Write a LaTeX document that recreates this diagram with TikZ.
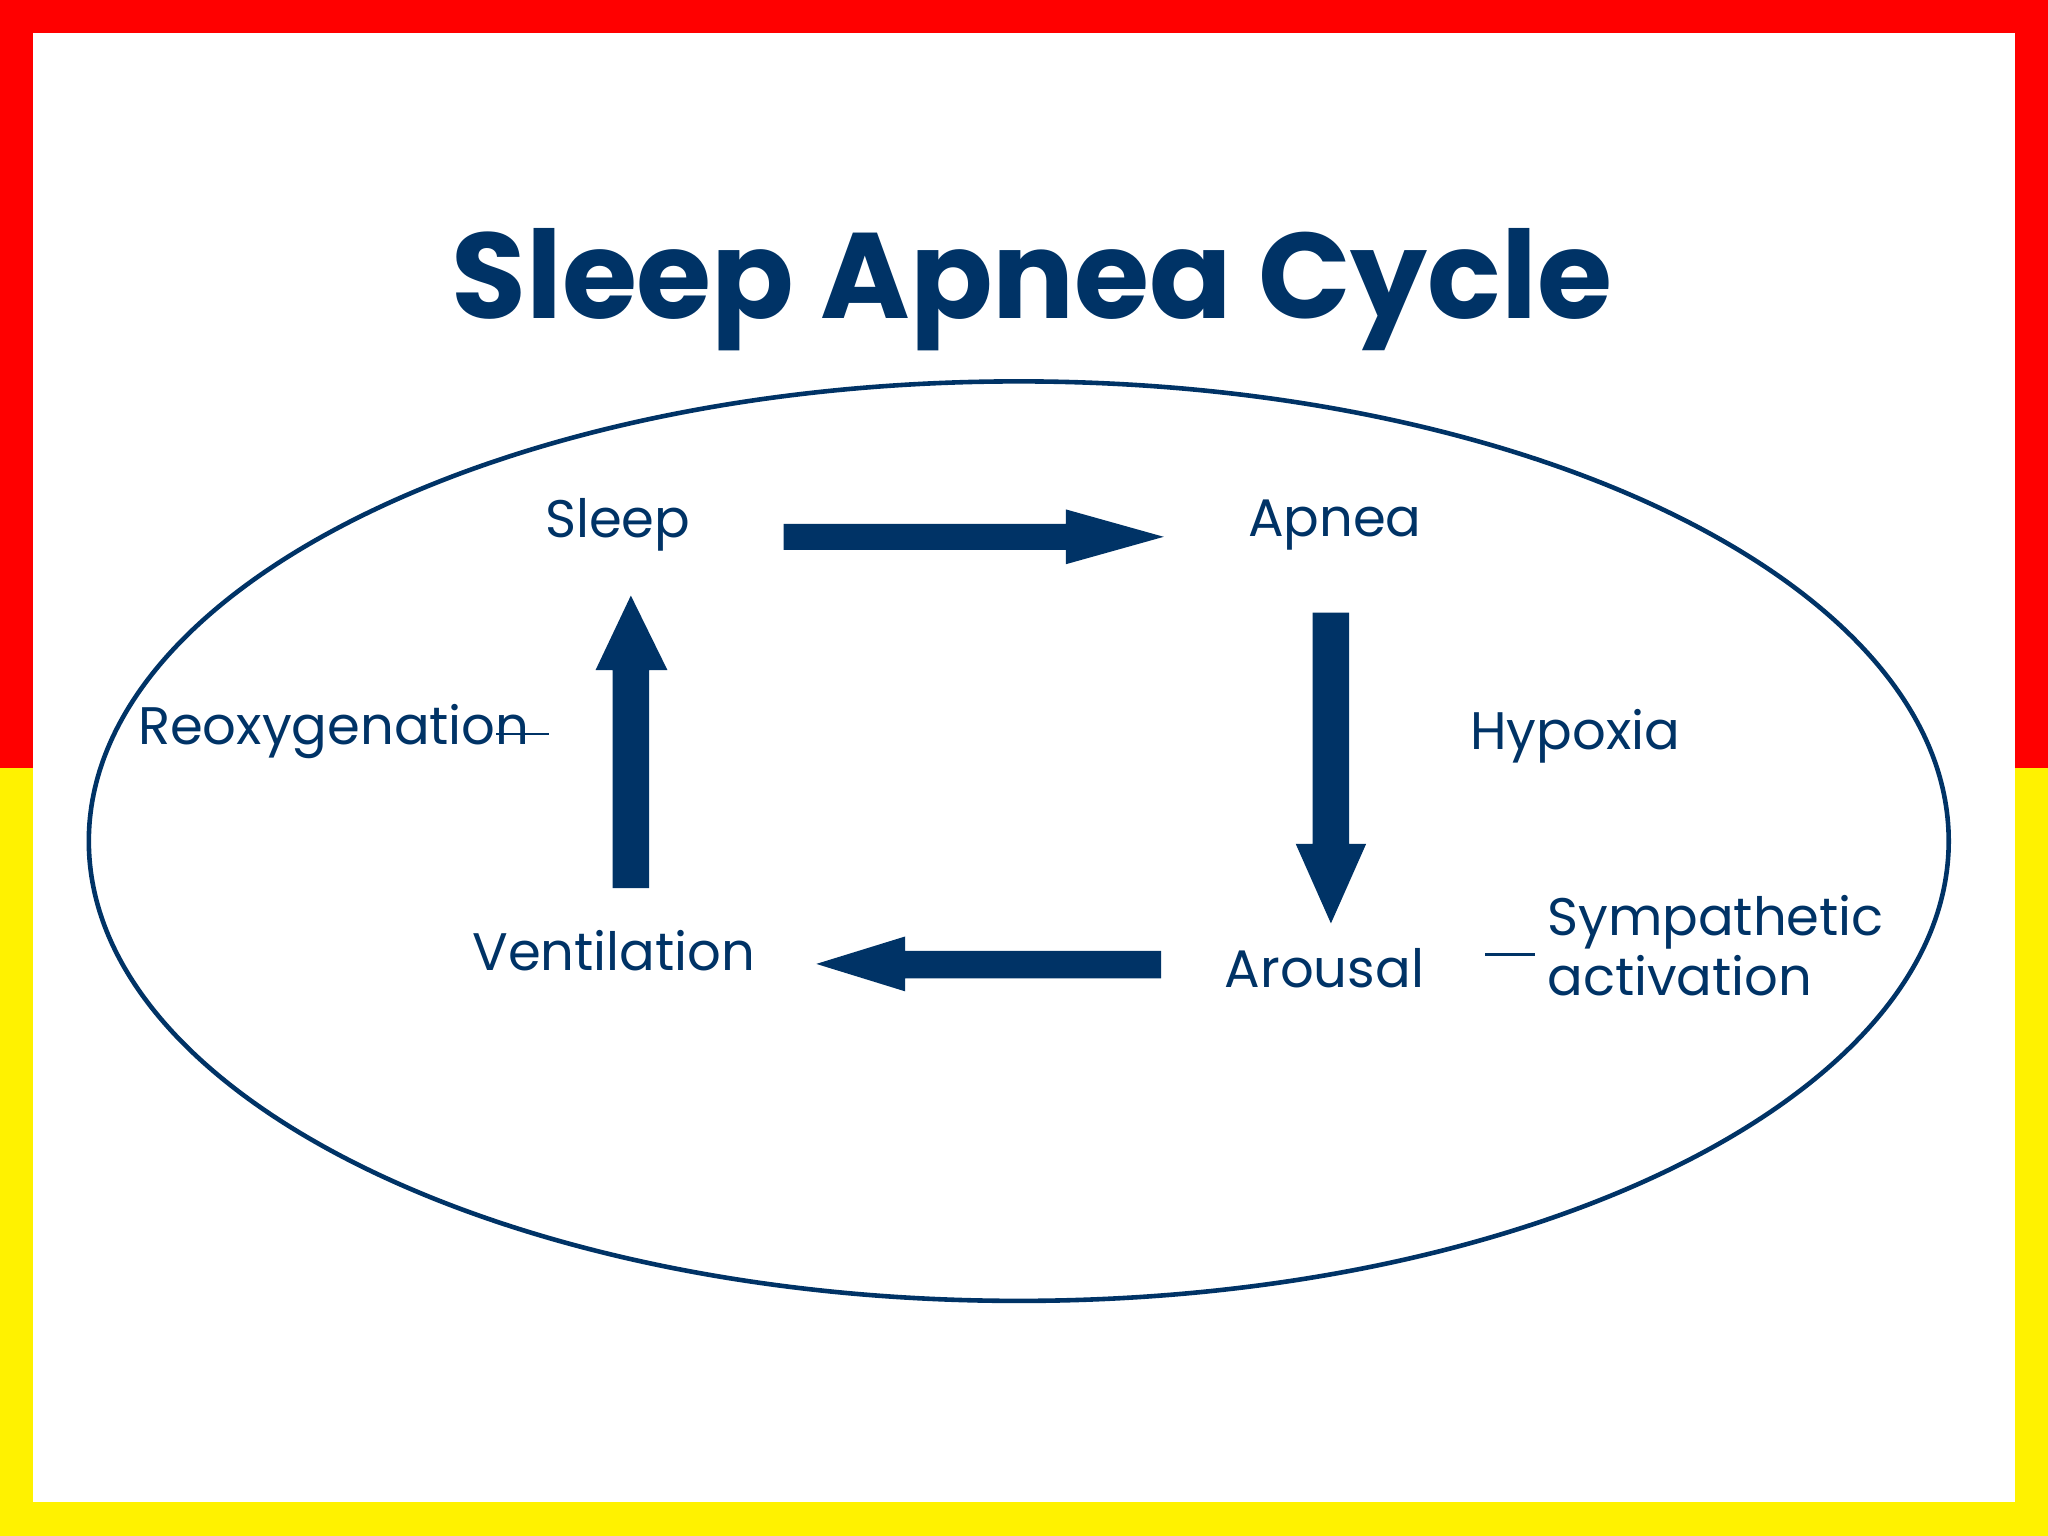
\documentclass[tikz,border=0pt]{standalone}
\usepackage{fontspec}
\setmainfont{Poppins}
\definecolor{navy}{RGB}{0,51,102}
\begin{document}
\begin{tikzpicture}[x=0.01cm,y=-0.01cm,
  lbl/.style={text=navy,font=\fontsize{11.5}{13}\selectfont,inner sep=0pt},
  blk/.style={fill=navy,draw=none}]
\useasboundingbox (0,0) rectangle (1568,1176);
\fill[yellow] (0,0) rectangle (1568,1176);
\fill[red] (0,0) rectangle (1568,588);
\fill[white] (25,25) rectangle (1543,1150);
\node[text=navy,font=\fontsize{26.5}{30}\bfseries\selectfont] (title) at (790,222) {Sleep Apnea Cycle};
\draw[navy,line width=1pt] (780,644) ellipse [x radius=712, y radius=352];
\node[lbl] (sleep) at (473,402) {Sleep};
\node[lbl] (apnea) at (1022,402) {Apnea};
\node[lbl] (hyp) at (1206,564) {Hypoxia};
\node[lbl] (aro) at (1014,741) {Arousal};
\node[lbl] (ven) at (470,728) {Ventilation};
\node[lbl,anchor=west] (reo) at (105,560) {Reoxygenation};
\node[lbl,anchor=west,align=left] (sym) at (1184,724) {Sympathetic\\activation};
\draw[navy,line width=0.6pt] (380,562) -- (420,562);
\draw[navy,line width=0.6pt] (1137,731) -- (1175,731);
% right arrow
\fill[blk] (600,401) -- (816,401) -- (816,390) -- (891,411) -- (816,432) -- (816,421) -- (600,421) -- cycle;
% down arrow
\fill[blk] (1005,469) -- (1033,469) -- (1033,646) -- (1046,646) -- (1019,707) -- (992,646) -- (1005,646) -- cycle;
% left arrow
\fill[blk] (889,728) -- (693,728) -- (693,717) -- (625,738) -- (693,759) -- (693,749) -- (889,749) -- cycle;
% up arrow
\fill[blk] (469,680) -- (497,680) -- (497,513) -- (511,513) -- (483,456) -- (456,513) -- (469,513) -- cycle;
\end{tikzpicture}
\end{document}
